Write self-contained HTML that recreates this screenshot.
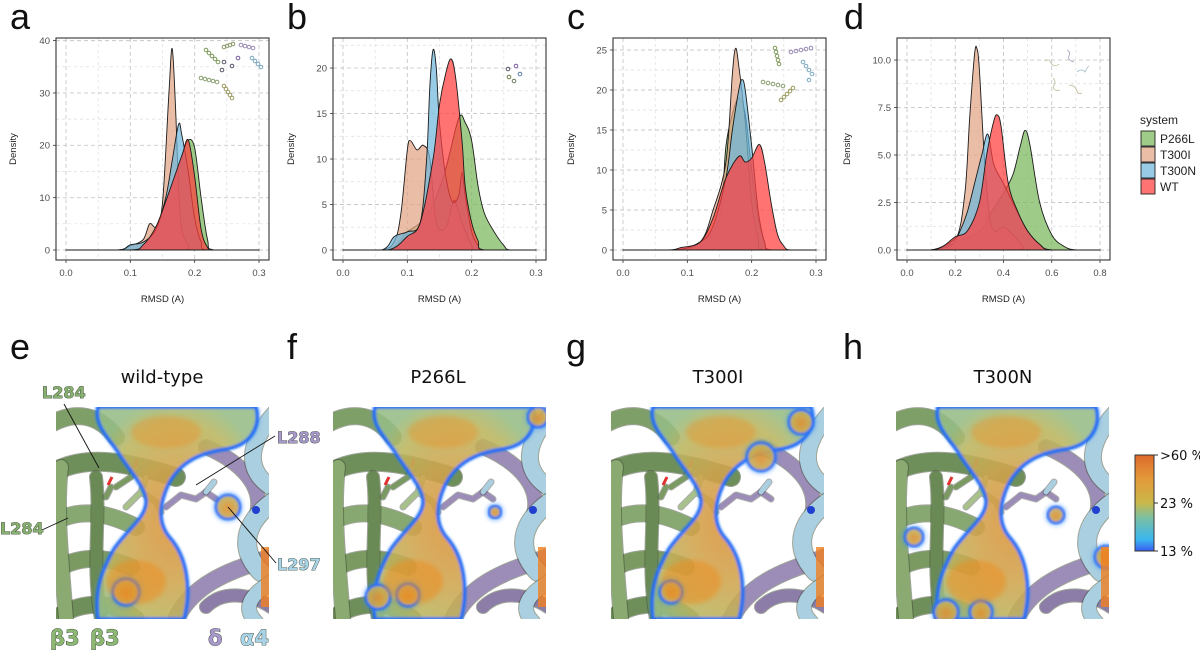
<!DOCTYPE html>
<html><head><meta charset="utf-8">
<style>
html,body{margin:0;padding:0;background:#fff;}
body{width:1200px;height:650px;overflow:hidden;font-family:"Liberation Sans","DejaVu Sans",sans-serif;}
svg{display:block}
</style></head>
<body>
<svg id="fig" width="1200" height="650" viewBox="0 0 1200 650" xmlns="http://www.w3.org/2000/svg">
<defs>
  <filter id="blur2" x="-20%" y="-20%" width="140%" height="140%"><feGaussianBlur stdDeviation="2.2"/></filter>
  <filter id="blur1"><feGaussianBlur stdDeviation="1"/></filter>
  <radialGradient id="dens" cx="50%" cy="55%" r="60%">
    <stop offset="0" stop-color="#e98f22"/>
    <stop offset="0.45" stop-color="#dca53c"/>
    <stop offset="0.8" stop-color="#c4b850"/>
    <stop offset="1" stop-color="#9cc07a"/>
  </radialGradient>
  <linearGradient id="cbar" x1="0" y1="1" x2="0" y2="0">
    <stop offset="0" stop-color="#3a5cf0"/>
    <stop offset="0.12" stop-color="#3ab6f0"/>
    <stop offset="0.35" stop-color="#7cc0a0"/>
    <stop offset="0.5" stop-color="#c9b84a"/>
    <stop offset="0.75" stop-color="#e39a3a"/>
    <stop offset="1" stop-color="#dd6a2a"/>
  </linearGradient>
  <clipPath id="imgclip"><rect x="0" y="0" width="213" height="212"/></clipPath>
</defs>
<g id="charts"></g>
<g id="scenes"></g>
</svg>
<script>
// ===== Chart data =====
const systems = ["P266L","T300I","T300N","WT"];
const sysColors = ["#78b85a","#e2a383","#6fb7dd","#ff3d3d"];

const aP266L = [[0.10,0],[0.12,1],[0.14,4],[0.16,11],[0.18,18],[0.19,21],[0.20,19.5],[0.21,10],[0.22,2],[0.23,0]];
const aT300I = [[0.08,0],[0.10,0.8],[0.12,2],[0.13,5],[0.14,4.5],[0.15,9],[0.16,30],[0.165,38.5],[0.17,28],[0.175,12],[0.18,4],[0.19,1],[0.20,0]];
const aT300N = [[0.08,0],[0.10,1],[0.12,1.5],[0.14,4],[0.155,10],[0.165,17],[0.175,24],[0.18,22],[0.19,15],[0.20,6],[0.21,1.5],[0.22,0]];
const aWT    = [[0.10,0],[0.12,1],[0.14,4.5],[0.16,11],[0.18,18],[0.19,21],[0.20,14],[0.21,4],[0.22,0.5],[0.23,0]];

const bP266L = [[0.07,0],[0.10,2],[0.12,3],[0.14,5],[0.16,9],[0.18,14.5],[0.19,14],[0.20,12],[0.21,7],[0.22,4],[0.235,2],[0.25,0.5],[0.26,0]];
const bT300I = [[0.06,0],[0.08,1],[0.09,4],[0.10,11],[0.105,12],[0.115,11],[0.125,11.5],[0.135,10],[0.145,3],[0.16,2.5],[0.17,5],[0.175,5.3],[0.185,3],[0.20,0.5],[0.21,0]];
const bT300N = [[0.06,0],[0.08,1.5],[0.10,2],[0.12,3],[0.13,10],[0.135,18],[0.14,22],[0.145,20],[0.15,14],[0.16,8],[0.17,5.3],[0.18,6],[0.185,8.5],[0.19,6],[0.20,2],[0.21,0.5],[0.22,0]];
const bWT    = [[0.07,0],[0.10,1.5],[0.12,3],[0.14,10],[0.15,16],[0.16,19.5],[0.168,21],[0.175,19],[0.185,12],[0.19,7],[0.20,3],[0.21,1],[0.22,0]];

const cP266L = [[0.08,0],[0.12,1],[0.15,4],[0.16,13],[0.17,17],[0.18,19],[0.19,17],[0.20,10],[0.21,4],[0.22,1],[0.23,0]];
const cT300I = [[0.08,0],[0.12,1],[0.14,5],[0.16,11],[0.17,22],[0.175,25.2],[0.18,23],[0.19,16],[0.20,6],[0.21,1.5],[0.22,0]];
const cT300N = [[0.08,0],[0.12,1],[0.14,3],[0.16,9],[0.17,15],[0.18,20],[0.185,21.3],[0.19,20],[0.20,13],[0.21,5],[0.22,1],[0.23,0]];
const cWT    = [[0.07,0],[0.09,0.3],[0.12,1],[0.14,4],[0.16,9],[0.18,11.7],[0.19,11],[0.20,11.5],[0.212,13.2],[0.22,11],[0.23,6],[0.24,2],[0.25,0.5],[0.26,0]];

const dP266L = [[0.10,0],[0.20,0.4],[0.30,1],[0.35,2],[0.40,3],[0.44,4],[0.47,5.5],[0.49,6.3],[0.51,5.5],[0.55,2.5],[0.60,0.8],[0.65,0.2],[0.70,0]];
const dT300I = [[0.10,0],[0.20,0.5],[0.24,3],[0.26,7],[0.28,10.3],[0.29,10.6],[0.30,9.5],[0.32,5],[0.34,2],[0.36,1],[0.40,1.2],[0.44,0.8],[0.48,0.2],[0.50,0]];
const dT300N = [[0.10,0],[0.15,0.2],[0.20,0.6],[0.22,1],[0.25,2],[0.28,3.5],[0.31,5],[0.335,6.1],[0.36,4.5],[0.40,3.5],[0.45,2.2],[0.50,1],[0.55,0.3],[0.60,0]];
const dWT    = [[0.10,0],[0.15,0.2],[0.20,0.7],[0.25,1],[0.30,2.5],[0.33,5],[0.36,6.8],[0.375,7.1],[0.39,6.5],[0.42,3.5],[0.46,2],[0.50,1],[0.55,0.3],[0.60,0]];

const xTicksABC = [0.0,0.1,0.2,0.3];
const xTicksD = [0.0,0.2,0.4,0.6,0.8];
const yTicksA = [0,10,20,30,40];
const yTicksB = [0,5,10,15,20];
const yTicksC = [0,5,10,15,20,25];
const yTicksD = [0,2.5,5,7.5,10];
const yLabelsD = ["0.0","2.5","5.0","7.5","10.0"];

// ===== helpers =====
const NS="http://www.w3.org/2000/svg";
function mk(tag, attrs, parent){const e=document.createElementNS(NS,tag);for(const k in attrs)e.setAttribute(k,attrs[k]);if(parent)parent.appendChild(e);return e;}
function smoothPath(pts,yb){
  let d="M"+pts[0][0].toFixed(2)+","+pts[0][1].toFixed(2);
  for(let i=0;i<pts.length-1;i++){
    const p0=pts[Math.max(0,i-1)],p1=pts[i],p2=pts[i+1],p3=pts[Math.min(pts.length-1,i+2)];
    let c1y=p1[1]+(p2[1]-p0[1])/6, c2y=p2[1]-(p3[1]-p1[1])/6;
    c1y=Math.min(c1y,yb); c2y=Math.min(c2y,yb);
    const c1x=p1[0]+(p2[0]-p0[0])/6, c2x=p2[0]-(p3[0]-p1[0])/6;
    d+=" C"+c1x.toFixed(2)+","+c1y.toFixed(2)+" "+c2x.toFixed(2)+","+c2y.toFixed(2)+" "+p2[0].toFixed(2)+","+p2[1].toFixed(2);
  }
  return d;
}
const charts=document.getElementById('charts');

function drawPanel(cfg){
  const g=mk('g',{},charts);
  
  
  const L=cfg.left, T=38, W=213, B=260;
  const x0=L+10, x1=L+203, y0=250;
  const xs=v=>x0+(v-cfg.xmin)/(cfg.xmax-cfg.xmin)*(x1-x0);
  const ys=v=>y0-v*(212/cfg.ytop);
  mk('rect',{x:L,y:T,width:W,height:B-T,fill:'#fff'},g);
  const gridG=mk('g',{},g);
  
  
  const xt=cfg.xticks, yt=cfg.yticks;
  const xstep=xt[1]-xt[0], ystep=yt[1]-yt[0];
  for(let i=0;i<xt.length;i++){
    mk('line',{x1:xs(xt[i]),x2:xs(xt[i]),y1:T,y2:B,stroke:'#c8c8c8','stroke-width':0.9,'stroke-dasharray':'4,3'},gridG);
    if(i<xt.length-1){const m=xt[i]+xstep/2;mk('line',{x1:xs(m),x2:xs(m),y1:T,y2:B,stroke:'#dddddd','stroke-width':0.7,'stroke-dasharray':'3,3'},gridG);}
  }
  for(let i=0;i<yt.length;i++){
    mk('line',{x1:L,x2:L+W,y1:ys(yt[i]),y2:ys(yt[i]),stroke:'#c8c8c8','stroke-width':0.9,'stroke-dasharray':'4,3'},gridG);
    const m=yt[i]+ystep/2; if(ys(m)>T) mk('line',{x1:L,x2:L+W,y1:ys(m),y2:ys(m),stroke:'#dddddd','stroke-width':0.7,'stroke-dasharray':'3,3'},gridG);
  }
  cfg.series.forEach((s,i)=>{
    const pts=[[cfg.xmin,0]].concat(s,[[cfg.xmax,0]]).map(p=>[xs(p[0]),ys(p[1])]);
    const d=smoothPath(pts,y0)+" Z";
    const path=mk('path',{d:d,fill:sysColors[i],'fill-opacity':0.72,stroke:'#1a1a1a','stroke-width':0.9,'stroke-linejoin':'round'},g);
    
    
  });
  mk('rect',{x:L,y:T,width:W,height:B-T,fill:'none',stroke:'#333','stroke-width':1.1},g);
  xt.forEach((v)=>{
    mk('line',{x1:xs(v),x2:xs(v),y1:B,y2:B+3,stroke:'#333','stroke-width':0.8},g);
    const t=mk('text',{x:xs(v),y:B+16,'text-anchor':'middle','font-size':9.5,fill:'#4d4d4d'},g);
    t.textContent=v.toFixed(1);
    
    
  });
  yt.forEach((v,i)=>{
    mk('line',{x1:L-3,x2:L,y1:ys(v),y2:ys(v),stroke:'#333','stroke-width':0.8},g);
    const t=mk('text',{x:L-6,y:ys(v)+3.3,'text-anchor':'end','font-size':9.5,fill:'#4d4d4d'},g);
    t.textContent=cfg.ylabels?cfg.ylabels[i]:String(v);
    
    
  });
  const xl=mk('text',{x:L+W/2,y:302,'text-anchor':'middle','font-size':9.5,fill:'#222'},g);
  xl.textContent='RMSD (A)';
  
  
  const yl=mk('text',{x:0,y:0,'text-anchor':'middle','font-size':9.5,fill:'#222',transform:'translate('+(cfg.ylabx)+',149) rotate(-90)'},g);
  yl.textContent='Density';
  
  
  const lt=mk('text',{x:cfg.letx,y:29,'font-size':36,fill:'#111'},g);
  lt.textContent=cfg.letter;
  
  
  const ins=mk('g',{},g);
  
  
  cfg.inset(ins,L);
}
function ring(p,cx,cy,col){mk('circle',{cx:cx,cy:cy,r:1.8,fill:'none',stroke:col,'stroke-width':1},p);}
function helixRow(p,x,y,dx,dy,n,col){for(let i=0;i<n;i++)ring(p,x+dx*i,y+dy*i,col);}

drawPanel({letter:'a',left:56,xmin:0,xmax:0.3,ytop:40.5,xticks:xTicksABC,yticks:yTicksA,ylabx:16,letx:10,
  series:[aP266L,aT300I,aT300N,aWT],
  inset:(p,L)=>{helixRow(p,L+150,50,3,3,5,'#7f9a5a');helixRow(p,L+168,47,3,-1,4,'#8a9a6a');helixRow(p,L+185,45,4,1,4,'#9a8ab8');
    helixRow(p,L+196,58,3,3,4,'#7aa8c0');helixRow(p,L+145,78,4,1,5,'#8aa070');helixRow(p,L+168,86,2,3,5,'#9a9a60');
    ring(p,L+168,62,'#556');ring(p,L+176,66,'#556');ring(p,L+166,70,'#556');ring(p,L+182,58,'#7a5aa8');}});
drawPanel({letter:'b',left:333,xmin:0,xmax:0.3,ytop:23.3,xticks:xTicksABC,yticks:yTicksB,ylabx:294,letx:287,
  series:[bP266L,bT300I,bT300N,bWT],
  inset:(p,L)=>{ring(p,L+175,69,'#556');ring(p,L+183,66,'#7a5aa8');ring(p,L+187,74,'#5a7aa8');ring(p,L+176,77,'#6a7a4a');ring(p,L+181,81,'#6a7a5a');}});
drawPanel({letter:'c',left:613,xmin:0,xmax:0.3,ytop:26.5,xticks:xTicksABC,yticks:yTicksC,ylabx:574,letx:567,
  series:[cP266L,cT300I,cT300N,cWT],
  inset:(p,L)=>{helixRow(p,L+162,48,1,4,5,'#7f9a5a');helixRow(p,L+178,52,5,-1,5,'#9a8ab8');helixRow(p,L+190,62,3,4,4,'#7aa8c0');
    helixRow(p,L+150,82,5,1,5,'#8aa070');helixRow(p,L+168,100,3,-3,5,'#9a9a60');ring(p,L+196,80,'#7aa8c0');}});
drawPanel({letter:'d',left:897,xmin:0,xmax:0.8,ytop:11.16,xticks:xTicksD,yticks:yTicksD,ylabels:yLabelsD,ylabx:850,letx:844,
  series:[dP266L,dT300I,dT300N,dWT],
  inset:(p,L)=>{const sq=(d,c)=>mk('path',{d:d,fill:'none',stroke:c,'stroke-width':0.8},p);
    sq('M'+(L+148)+',61 q4,-3 6,2 q3,5 8,1','#b5c39a');sq('M'+(L+170)+',50 q4,2 2,6 q-2,4 5,6','#a0a0c0');
    sq('M'+(L+180)+',72 q5,-4 8,0 q3,-6 4,-6','#a0b8c8');sq('M'+(L+156)+',78 q4,4 0,9 q2,5 7,3','#b5c39a');sq('M'+(L+172)+',85 q6,0 8,6 q1,4 5,2','#c0b890');}});

(function(){
  const g=mk('g',{},charts);
  
  
  const t=mk('text',{x:1140,y:124,'font-size':12,fill:'#222'},g);t.textContent='system';
  
  
  systems.forEach((s,i)=>{
    const y=131+i*16;
    const r=mk('rect',{x:1141,y:y,width:14,height:15,fill:sysColors[i],'fill-opacity':0.72,stroke:'#222','stroke-width':0.9},g);
    
    
    const l=mk('text',{x:1160,y:y+12,'font-size':12,fill:'#222'},g);l.textContent=s;
    
    
  });
})();

// ===== bottom molecular scenes =====
const scenes=document.getElementById('scenes');
function scene(x,y,variant,title,letter,letx,titlex){
  const lt=mk('text',{x:letx,y:359,'font-size':36,fill:'#111'},scenes);lt.textContent=letter;
  
  
  const tt=mk('text',{x:titlex,y:383,'font-size':18,'text-anchor':'middle',fill:'#111','font-family':'"DejaVu Sans",sans-serif'},scenes);tt.textContent=title;
  
  
  const g=mk('g',{transform:'translate('+x+','+y+')','clip-path':'url(#imgclip)'},scenes);
  
  
  mk('rect',{x:0,y:0,width:213,height:212,fill:'#fff'},g);
  const rib=(d,c,w)=>{mk('path',{d:d,fill:'none',stroke:'#3d4a30','stroke-width':w+2,'stroke-linecap':'round',opacity:0.5},g);mk('path',{d:d,fill:'none',stroke:c,'stroke-width':w,'stroke-linecap':'round'},g);};
  rib('M-10,20 C20,0 45,10 60,30','#7f9f68',16);
  rib('M-10,70 C25,45 70,55 120,70','#6f8f5a',18);
  rib('M-10,120 C25,95 60,110 80,120','#88a872',16);
  rib('M-10,170 C20,145 50,150 75,160','#7a9a62',16);
  rib('M-5,215 C25,190 60,195 80,212','#6f8f5a',16);
  rib('M5,60 C0,100 5,150 10,212','#8aaa72',14);
  rib('M40,70 C45,110 35,160 45,212','#6a8a55',12);
  rib('M150,40 C185,55 210,80 200,110','#9c8cb8',14);
  rib('M120,212 C140,170 190,160 215,150','#9c8cb8',16);
  rib('M150,200 C170,180 200,190 215,200','#8c7ca8',12);
  rib('M225,0 C195,30 185,60 215,80','#a9cfe0',16);
  rib('M225,90 C190,110 180,140 205,165','#a9cfe0',18);
  rib('M225,170 C195,185 185,200 200,215','#a9cfe0',14);
  const st=(d,c)=>{mk('path',{d:d,fill:'none',stroke:'#333','stroke-width':7,'stroke-linecap':'round','stroke-linejoin':'round',opacity:0.4},g);mk('path',{d:d,fill:'none',stroke:c,'stroke-width':5,'stroke-linecap':'round','stroke-linejoin':'round'},g);};
  st('M70,100 L85,85 L100,95 L105,105 M85,85 L90,70','#a8c08a');
  st('M50,90 L55,80 M60,80 L75,70 L80,60','#7a9a62');
  mk('path',{d:'M52,78 L56,70 M79,60 L81,52',stroke:'#e03030','stroke-width':3},g);
  st('M110,100 L125,88 L140,92 L150,85 L160,92','#9c8cb8');
  st('M150,85 L158,75','#a9cfe0');
  mk('circle',{cx:200,cy:103,r:4,fill:'#2040d0'},g);
  const dg=mk('g',{},g);
  
  
  let main='M42,0 L200,0 C205,20 195,38 170,42 C140,46 122,58 112,78 C102,100 102,118 115,132 C130,150 136,180 128,212 L42,212 C38,180 48,160 58,142 C72,122 88,112 90,97 C92,82 72,62 62,45 C52,30 38,18 42,0 Z';
  mk('path',{d:main,fill:'#5aa0ff',opacity:0.4,transform:'translate(-3,0) scale(1.03,1)',filter:'url(#blur2)'},dg);
  mk('path',{d:main,fill:'url(#dens)','fill-opacity':0.8,stroke:'#1e6cf5','stroke-width':3.5,filter:'url(#blur1)'},dg);
  const blob=(cx,cy,r)=>{mk('circle',{cx:cx,cy:cy,r:r+3,fill:'#3a8cff',opacity:0.45,filter:'url(#blur2)'},dg);mk('circle',{cx:cx,cy:cy,r:r,fill:'url(#dens)','fill-opacity':0.85,stroke:'#1e6cf5','stroke-width':2.5,filter:'url(#blur1)'},dg);};
  if(variant==='e'){blob(172,100,12);blob(70,185,13);}
  if(variant==='f'){blob(205,10,10);blob(45,190,12);blob(75,188,11);blob(162,105,6);}
  if(variant==='g'){blob(150,50,14);blob(190,15,12);blob(60,185,11);}
  if(variant==='h'){blob(160,108,8);blob(18,130,9);blob(50,205,12);blob(85,205,11);blob(210,150,11);}
  mk('ellipse',{cx:80,cy:175,rx:30,ry:22,fill:'#ef8a1c',opacity:0.5,filter:'url(#blur2)'},dg);
  mk('ellipse',{cx:110,cy:25,rx:35,ry:16,fill:'#ef8a1c',opacity:0.35,filter:'url(#blur2)'},dg);
  mk('rect',{x:205,y:140,width:10,height:60,fill:'#f08020',opacity:0.8},g);
}
scene(56,407,'e','wild-type','e',10,162);
scene(333,407,'f','P266L','f',287,438);
scene(611,407,'g','T300I','g',566,718);
scene(896,407,'h','T300N','h',843,1003);

(function(){
  const g=mk('g',{},scenes);
  
  
  const line=(x1,y1,x2,y2)=>mk('line',{x1:x1,y1:y1,x2:x2,y2:y2,stroke:'#111','stroke-width':0.9},g);
  line(64,404,99,468);line(42,530,68,518);line(275,436,196,485);line(276,563,228,507);
  const lab=(txt,x,y,fill,name,size)=>{const t=mk('text',{x:x,y:y,'font-size':size||16,'font-weight':'bold',fill:fill,stroke:'#2c3a2a','stroke-width':0.8,'paint-order':'stroke','font-family':'"DejaVu Sans",sans-serif'},g);t.textContent=txt;
    
    };
  lab('L284',42,398,'#88b070','label-l284-top');
  lab('L284',0,534,'#88b070','label-l284-left');
  lab('L288',277,443,'#a898cc','label-l288');
  lab('L297',277,570,'#a9d3e6','label-l297');
  lab('β3',50,645,'#8cb874','label-beta3-a',21);
  lab('β3',90,645,'#8cb874','label-beta3-b',21);
  lab('δ',208,645,'#a898cc','label-delta',21);
  lab('α4',240,645,'#a9d3e6','label-alpha4',21);
})();

(function(){
  const g=mk('g',{},scenes);
  
  
  mk('rect',{x:1135,y:455,width:19,height:96,fill:'url(#cbar)',stroke:'#333','stroke-width':1},g);
  const labs=[['>60 %',455],['23 %',503],['13 %',551]];
  labs.forEach(l=>{mk('line',{x1:1154,x2:1158,y1:l[1],y2:l[1],stroke:'#333'},g);
    const t=mk('text',{x:1160,y:l[1]+5,'font-size':13,fill:'#111','font-family':'"DejaVu Sans",sans-serif'},g);t.textContent=l[0];
    
    });
})();
</script>
</body></html>
